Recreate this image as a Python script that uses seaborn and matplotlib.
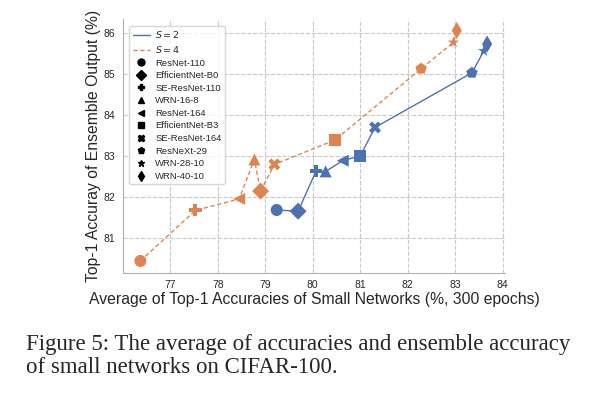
import matplotlib
matplotlib.use("Agg")
import matplotlib.pyplot as plt
from matplotlib.lines import Line2D
import seaborn as sns
import pandas as pd

# networks, in the order of the legend
networks = ["ResNet-110", "EfficientNet-B0", "SE-ResNet-110", "WRN-16-8", "ResNet-164",
            "EfficientNet-B3", "SE-ResNet-164", "ResNeXt-29", "WRN-28-10", "WRN-40-10"]
markers = ["o", "D", "P", "^", "<", "s", "X", "p", "*", "d"]

# S = 2
avg_s2 = [79.24, 79.69, 80.07, 80.27, 80.63, 81.00, 81.31, 83.35, 83.60, 83.67]
ens_s2 = [81.68, 81.65, 82.63, 82.62, 82.88, 83.00, 83.69, 85.02, 85.55, 85.72]
# S = 4
avg_s4 = [76.37, 78.90, 77.53, 78.77, 78.45, 80.46, 79.19, 82.28, 82.96, 83.03]
ens_s4 = [80.44, 82.14, 81.67, 82.91, 81.95, 83.38, 82.79, 85.12, 85.76, 86.05]

df = pd.DataFrame({
    "avg": avg_s2 + avg_s4,
    "ens": ens_s2 + ens_s4,
    "S": ["2"] * 10 + ["4"] * 10,
    "network": networks * 2,
})

sns.set_style("whitegrid", {"grid.linestyle": "--", "grid.color": "#c8c8c8",
                            "axes.edgecolor": "#b0b0b0"})
plt.rcParams["font.family"] = ["Liberation Sans", "DejaVu Sans"]
colors = {"2": "#4c72b0", "4": "#dd8452"}

fig = plt.figure(figsize=(6.05, 3.96), dpi=100)
ax = fig.add_axes([0.203, 0.311, 0.632, 0.640])

sns.lineplot(data=df, x="avg", y="ens", hue="S", palette=colors, style="S",
             dashes={"2": "", "4": (3, 2)}, sort=True, lw=1, legend=False, ax=ax)
sns.scatterplot(data=df, x="avg", y="ens", hue="S", palette=colors, style="network",
                markers=dict(zip(networks, markers)), s=75, linewidth=0,
                legend=False, ax=ax, zorder=3)

ax.set_xlim(76.0, 84.05)
ax.set_ylim(80.15, 86.32)
ax.set_xticks([77, 78, 79, 80, 81, 82, 83, 84])
ax.set_yticks([81, 82, 83, 84, 85, 86])
ax.tick_params(labelsize=7.5, pad=2)
ax.grid(True, linewidth=0.8)
for side in ["top", "right"]:
    ax.spines[side].set_visible(False)
ax.set_xlabel("Average of Top-1 Accuracies of Small Networks (%, 300 epochs)", fontsize=11.3, labelpad=1)
ax.set_ylabel("Top-1 Accuray of Ensemble Output (%)", fontsize=11.3, labelpad=2)

handles = [Line2D([], [], color=colors["2"], lw=1),
           Line2D([], [], color=colors["4"], lw=1, ls=(0, (3, 2)))]
labels = ["$S = 2$", "$S = 4$"]
for n, m in zip(networks, markers):
    handles.append(Line2D([], [], color="black", marker=m, ls="", markersize=5))
    labels.append(n)
ax.legend(handles, labels, loc="upper left", fontsize=6.8, frameon=True,
          handlelength=1.8, handletextpad=0.6, labelspacing=0.38, borderpad=0.35,
          borderaxespad=0.3, bbox_to_anchor=(0.01, 0.985))

caption = "Figure 5: The average of accuracies and ensemble accuracy\nof small networks on CIFAR-100."
fig.text(0.043, 0.058, caption, fontsize=16.5, family="Liberation Serif",
         ha="left", va="baseline", linespacing=1.12)

fig.savefig("out.png", dpi=100)
